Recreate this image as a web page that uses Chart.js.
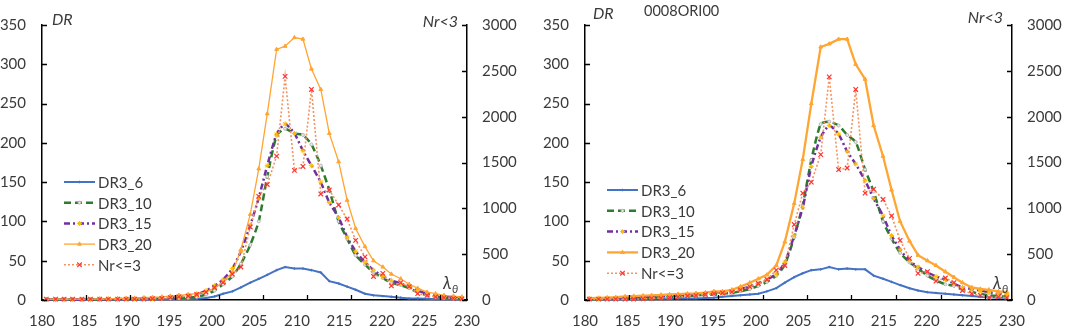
<!DOCTYPE html>
<html>
<head>
<meta charset="utf-8">
<script src="https://cdn.jsdelivr.net/npm/chart.js@4.4.1/dist/chart.umd.min.js"></script>
<style>
  html, body { margin: 0; padding: 0; background: #fff; }
  #wrap { position: relative; width: 1080px; height: 333px; }
  .box { position: absolute; top: 0; width: 540px; height: 333px; }
</style>
</head>
<body>
<div id="wrap">
  <div class="box" style="left:0"><canvas id="c1" width="540" height="333"></canvas></div>
  <div class="box" style="left:540px"><canvas id="c2" width="540" height="333"></canvas></div>
</div>
<script>
// solar longitude of each point (deg)
const lambda = [180.5,181.6,182.6,183.6,184.7,185.7,186.8,187.8,188.9,189.9,190.9,192.0,193.0,194.1,195.1,196.1,
  197.2,198.2,199.3,200.3,201.3,202.4,203.4,204.5,205.5,206.5,207.6,208.6,209.7,210.7,211.7,212.8,213.8,214.9,
  215.9,216.9,218.0,219.0,220.1,221.1,222.2,223.2,224.2,225.3,226.3,227.3,228.4,229.4];

const xTicks = [180,185,190,195,200,205,210,215,220,225,230];
const drTicks = [0,50,100,150,200,250,300,350];
const nrTicks = [0,500,1000,1500,2000,2500,3000];
const seriesNames = ['DR3_6','DR3_10','DR3_15','DR3_20','Nr<=3'];

// left panel
const dr6A = [0.5,0.5,0.5,0.5,0.5,0.5,0.5,0.5,0.5,0.5,0.6,0.7,0.8,0.9,1,1.2,1.4,1.6,2.5,4.5,8,11,16,22,27,32,38,42,40,40,38,35,24,21,17,13,8,6,5,4,3,2,2,1.5,1,1,1,1];
const dr10A = [0.5,0.5,0.5,0.5,0.6,0.7,0.8,0.9,1,1.2,1.4,1.6,1.8,2,2.2,2.5,3,4,7,12,20,30,46,70,100,157,209,218,212,210,198,171,140,100,78,57,45,35,28,22,19,15,10,6,4,3,2,1.5];
const dr15A = [0.5,0.5,0.5,0.6,0.7,0.8,0.9,1,1.2,1.4,1.6,1.8,2,2.4,3,4,5,7,12,18,26,40,62,95,130,171,211,224,212,190,171,150,124,105,80,62,48,38,30,25,21,17,12,8,5,4,3,2.5];
const dr20A = [1,1,1,1,1,1,1.5,1.5,2,2,2.5,3,3.5,4,5,6,7,8,10,15,23,35,64,109,167,237,319,323,334,332,294,268,212,176,127,91,68,50,42,33,27,20,15,10,8,6,5,4];
const nrA = [9,9,9,9,9,9,9,9,9,9,9,9,13,17,26,34,43,60,86,137,189,283,360,797,1131,1260,1569,2439,1414,1457,2297,1157,1200,1037,883,651,471,257,291,154,189,146,69,51,34,26,17,12];

// right panel (0008ORI00)
const dr6B = [1,1,1,1,1,1.5,1.5,1.5,1.5,1.5,2,2,2,2.5,3,4,5,6,7,8,11,15,22,29,34,38,39,42,39,40,39,39,31,27,23,19,15,12,10,9,8,7,6,5,4,3.5,3,3];
const dr10B = [1,1.5,1.5,2,2,2.5,3,3,3.5,4,4.5,5,6,6.5,7,8,9,11,14,18,23,31,45,80,121,178,224,227,222,210,201,166,138,100,78,60,48,40,31,25,20,18,13,10,8,6,5,4];
const dr15B = [1.5,1.5,2,2,2.5,3,3.5,4,4.5,5,5.5,6,7,8,9,10,12,14,17,21,26,33,48,82,118,170,207,222,211,189,173,152,129,107,82,64,50,42,35,30,26,21,16,14,12,10,8,7];
const dr20B = [2.3,2.6,3,3.5,4.5,5,5.5,6,6.5,7,7.5,8,8.5,9.5,11,11,13,17,22,27,32,44,74,123,179,250,322,326,332,332,300,281,222,183,140,100,75,57,50,44,36,29,22,16,14,13,11,10];
const nrB = [9,9,9,9,9,9,13,17,21,26,34,43,51,60,69,77,86,111,146,180,223,326,377,823,1166,1286,1586,2434,1423,1440,2297,1166,1209,1097,917,651,454,291,309,206,240,189,103,69,51,26,34,26];

const FONT = 'Lato, "Open Sans", sans-serif';
const TXT = '#3a3a3a';

function pts(arr) { return lambda.map((x, i) => ({ x: x, y: arr[i] })); }

const decor = {
  id: 'decor',
  afterDraw(chart, args, o) {
    const ctx = chart.ctx, a = chart.chartArea;
    const sx = chart.scales.x, sy = chart.scales.y, sy1 = chart.scales.y1;
    ctx.save();
    // tick marks pointing into the plot
    ctx.strokeStyle = '#000';
    ctx.lineWidth = 1.3;
    ctx.beginPath();
    drTicks.forEach(v => { const p = Math.round(sy.getPixelForValue(v)) + 0.5; ctx.moveTo(a.left, p); ctx.lineTo(a.left + 5, p); });
    nrTicks.forEach(v => { const p = Math.round(sy1.getPixelForValue(v)) + 0.5; ctx.moveTo(a.right - 5, p); ctx.lineTo(a.right, p); });
    for (let k = 5; k < lambda.length; k += 5) {
      const px = Math.round(sx.getPixelForValue((lambda[k - 1] + lambda[k]) / 2)) + 0.5;
      ctx.moveTo(px, a.bottom); ctx.lineTo(px, a.bottom - 5);
    }
    ctx.stroke();

    // axis captions
    ctx.fillStyle = TXT;
    ctx.textBaseline = 'middle';
    ctx.font = 'italic 16px ' + FONT;
    ctx.textAlign = 'left';
    ctx.fillText('DR', a.left + o.drDx, o.drY);
    ctx.textAlign = 'right';
    ctx.fillText('Nr<3', a.right - 9, o.nrY);
    ctx.textAlign = 'left';
    ctx.font = 'italic 17px ' + FONT;
    ctx.fillText('λ', a.right - o.lamDx, o.lamY);
    ctx.font = 'italic 11px ' + FONT;
    ctx.fillText('θ', a.right - o.lamDx + 9, o.lamY + 5);
    if (o.title) {
      ctx.font = '14.5px ' + FONT;
      ctx.fillText(o.title, o.titleX, o.titleY);
    }

    // legend inside the plot
    chart.data.datasets.forEach((ds, i) => {
      const yy = o.legY + i * o.legGap;
      ctx.strokeStyle = ds.borderColor;
      ctx.lineWidth = ds.borderWidth;
      ctx.setLineDash(ds.borderDash || []);
      ctx.beginPath(); ctx.moveTo(o.legX, yy); ctx.lineTo(o.legX + 31, yy); ctx.stroke();
      ctx.setLineDash([]);
      ctx.fillStyle = ds.pointBackgroundColor;
      ctx.strokeStyle = ds.pointBorderColor;
      ctx.lineWidth = ds.pointBorderWidth;
      Chart.helpers.drawPoint(ctx, { pointStyle: ds.pointStyle, radius: ds.pointRadius, borderWidth: ds.pointBorderWidth, rotation: 0 }, o.legX + 15.5, yy);
      ctx.fillStyle = TXT;
      ctx.font = '15px ' + FONT;
      ctx.textAlign = 'left';
      ctx.fillText(ds.label, o.legX + 34, yy + 1);
    });
    ctx.restore();
  }
};

function makeChart(id, d6, d10, d15, d20, nr, thick, leftW, rightW, deco) {
  const tickFont = { family: FONT, size: 15 };
  return new Chart(document.getElementById(id), {
    type: 'line',
    data: {
      datasets: [
        { label: seriesNames[0], data: pts(d6), yAxisID: 'y', order: 5,
          borderColor: '#4472C4', borderWidth: 2, pointStyle: 'circle', pointRadius: 0.8,
          pointBackgroundColor: '#4472C4', pointBorderColor: '#4472C4', pointBorderWidth: 1 },
        { label: seriesNames[1], data: pts(d10), yAxisID: 'y', order: 4, tension: 0.2,
          borderColor: '#2D7B2D', borderWidth: 2.5, borderDash: [7, 4], pointStyle: 'circle', pointRadius: 1.5,
          pointBackgroundColor: '#EDEDED', pointBorderColor: '#B4B4B4', pointBorderWidth: 1 },
        { label: seriesNames[2], data: pts(d15), yAxisID: 'y', order: 3, tension: 0.2,
          borderColor: '#7030A0', borderWidth: 2.5, borderDash: [6, 3, 2, 3], pointStyle: 'star', pointRadius: 2.5,
          pointBackgroundColor: '#FFC000', pointBorderColor: '#FFC000', pointBorderWidth: 1 },
        { label: seriesNames[3], data: pts(d20), yAxisID: 'y', order: 2,
          borderColor: '#FFA532', borderWidth: thick, pointStyle: 'triangle', pointRadius: 2.2,
          pointBackgroundColor: '#FFA532', pointBorderColor: '#FFA532', pointBorderWidth: 1 },
        { label: seriesNames[4], data: pts(nr), yAxisID: 'y1', order: 1,
          borderColor: '#F5935F', borderWidth: 1.6, borderDash: [2, 2], pointStyle: 'crossRot', pointRadius: 3.2,
          pointBackgroundColor: '#FF3333', pointBorderColor: '#FF3333', pointBorderWidth: 1.2 }
      ]
    },
    options: {
      responsive: false,
      animation: false,
      devicePixelRatio: 1,
      layout: { padding: { top: 10, left: 0, right: 0, bottom: 0 } },
      elements: { line: { fill: false }, point: { hoverRadius: 3 } },
      datasets: { line: { clip: 8 } },
      plugins: { legend: { display: false }, tooltip: { enabled: false }, decor: deco },
      scales: {
        x: {
          type: 'linear', min: 180, max: 230,
          afterBuildTicks: s => { s.ticks = xTicks.map(v => ({ value: v })); },
          afterFit: s => { s.height = 33; },
          grid: { display: false, drawTicks: false },
          border: { display: true, color: '#000', width: 1.5 },
          ticks: { padding: 12, color: TXT, font: tickFont, maxRotation: 0, autoSkip: false, callback: v => String(v) }
        },
        y: {
          position: 'left', min: 0, max: 350,
          afterBuildTicks: s => { s.ticks = drTicks.map(v => ({ value: v })); },
          afterFit: s => { s.width = leftW; },
          grid: { display: false, drawTicks: false },
          border: { display: true, color: '#000', width: 1.5 },
          ticks: { padding: 16, color: TXT, font: tickFont, callback: v => String(v) }
        },
        y1: {
          position: 'right', min: 0, max: 3000,
          afterBuildTicks: s => { s.ticks = nrTicks.map(v => ({ value: v })); },
          afterFit: s => { s.width = rightW; },
          grid: { display: false, drawTicks: false },
          border: { display: true, color: '#000', width: 1.5 },
          ticks: { padding: 15, color: TXT, font: tickFont, callback: v => String(v) }
        }
      }
    },
    plugins: [decor]
  });
}

makeChart('c1', dr6A, dr10A, dr15A, dr20A, nrA, 1.3, 42, 73,
  { drDx: 10, drY: 20, nrY: 22, lamDx: 24, lamY: 284, title: '',
    legX: 64, legY: 182, legGap: 20.7 });
makeChart('c2', dr6B, dr10B, dr15B, dr20B, nrB, 2.3, 45, 68,
  { drDx: 8, drY: 14, nrY: 18, lamDx: 19, lamY: 284, title: '0008ORI00', titleX: 104, titleY: 11,
    legX: 67, legY: 190, legGap: 20.8 });
</script>
</body>
</html>
